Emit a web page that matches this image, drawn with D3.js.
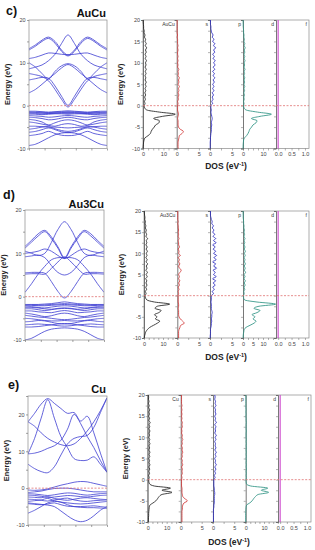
<!DOCTYPE html>
<html><head><meta charset="utf-8">
<script src="https://cdn.jsdelivr.net/npm/d3@7"></script>
<style>
body{margin:0;background:#fff}
svg{display:block}
text{font-family:Arial,"Liberation Sans",sans-serif}
</style>
</head><body>
<svg id="fig" width="315" height="550"></svg>
<script>
// ---------------- DATA ----------------
const panelLetters = ["c)", "d)", "e)"];
const compounds = ["AuCu", "Au3Cu", "Cu"];
const orbitals = ["s", "p", "d", "f"];
const kPoints = [0,1,2,3,4,5,6,7,8,9,10,11,12];

const bandsAuCu = [
 [13.3,14.2,15.3,16.0,15.0,13.0,11.8,13.0,15.0,16.0,15.3,14.2,13.3],
 [13.0,13.9,15.0,15.7,14.6,12.7,11.6,12.7,14.6,15.7,15.0,13.9,13.0],
 [11.0,11.3,11.8,12.3,12.2,12.0,11.9,12.0,12.2,12.3,11.8,11.3,11.0],
 [10.0,9.0,7.5,6.2,8.0,9.3,9.8,9.3,8.0,6.2,7.5,9.0,10.0],
 [8.6,9.0,9.5,10.5,12.0,14.5,16.5,14.5,12.0,10.5,9.5,9.0,8.6],
 [7.5,7.2,6.8,5.8,3.8,1.5,-0.3,1.5,3.8,5.8,6.8,7.2,7.5],
 [6.0,6.3,6.6,6.4,4.6,2.2,0.1,2.2,4.6,6.4,6.6,6.3,6.0],
 [3.0,3.8,5.0,6.3,7.5,8.8,9.6,8.8,7.5,6.3,5.0,3.8,3.0],
 [-1.3,-1.3,-1.4,-1.5,-1.4,-1.3,-1.2,-1.3,-1.4,-1.5,-1.4,-1.3,-1.3],
 [-1.45,-1.5,-1.55,-1.6,-1.55,-1.45,-1.4,-1.45,-1.55,-1.6,-1.55,-1.5,-1.45],
 [-1.6,-1.6,-1.7,-1.8,-1.7,-1.6,-1.6,-1.6,-1.7,-1.8,-1.7,-1.6,-1.6],
 [-1.8,-1.85,-1.9,-1.85,-1.8,-1.75,-1.8,-1.75,-1.8,-1.85,-1.9,-1.85,-1.8],
 [-2.0,-2.0,-2.1,-2.0,-1.9,-1.9,-2.0,-1.9,-1.9,-2.0,-2.1,-2.0,-2.0],
 [-2.3,-2.4,-2.5,-2.7,-2.6,-2.4,-2.3,-2.4,-2.6,-2.7,-2.5,-2.4,-2.3],
 [-2.7,-2.8,-3.0,-3.3,-3.2,-2.9,-2.7,-2.9,-3.2,-3.3,-3.0,-2.8,-2.7],
 [-3.2,-3.4,-3.8,-4.5,-4.0,-3.5,-3.3,-3.5,-4.0,-4.5,-3.8,-3.4,-3.2],
 [-3.8,-4.0,-4.3,-4.6,-4.8,-4.4,-4.2,-4.4,-4.8,-4.6,-4.3,-4.0,-3.8],
 [-4.8,-4.8,-4.9,-5.0,-5.0,-5.1,-5.2,-5.1,-5.0,-5.0,-4.9,-4.8,-4.8],
 [-5.5,-5.3,-5.0,-4.9,-5.4,-5.8,-6.0,-5.8,-5.4,-4.9,-5.0,-5.3,-5.5],
 [-6.2,-6.0,-5.6,-5.2,-5.6,-6.1,-6.3,-6.1,-5.6,-5.2,-5.6,-6.0,-6.2],
 [-7.0,-6.8,-6.5,-6.0,-6.5,-6.9,-7.0,-6.9,-6.5,-6.0,-6.5,-6.8,-7.0],
 [-9.3,-9.0,-8.3,-7.5,-6.8,-6.4,-6.3,-6.4,-6.8,-7.5,-8.3,-9.0,-9.3]
];

const bandsAu3Cu = [
 [11.6,13.0,14.5,15.3,13.8,11.5,9.0,11.5,13.8,15.3,14.5,13.0,11.6],
 [11.2,12.6,14.0,15.0,13.4,11.2,8.8,11.2,13.4,15.0,14.0,12.6,11.2],
 [10.5,10.0,9.5,10.0,12.5,15.5,17.3,15.5,12.5,10.0,9.5,10.0,10.5],
 [10.0,10.2,10.5,11.0,10.5,9.5,8.8,9.5,10.5,11.0,10.5,10.2,10.0],
 [9.2,9.4,9.6,9.0,7.2,5.6,5.0,5.6,7.2,9.0,9.6,9.4,9.2],
 [5.5,5.6,5.6,5.4,3.5,1.2,-0.3,1.2,3.5,5.4,5.6,5.6,5.5],
 [5.2,5.3,5.3,5.2,6.5,8.0,9.2,8.0,6.5,5.2,5.3,5.3,5.2],
 [1.0,3.0,5.2,7.0,8.5,9.0,9.0,9.0,8.5,7.0,5.2,3.0,1.0],
 [-1.8,-1.8,-1.8,-1.7,-1.6,-1.4,-1.2,-1.4,-1.6,-1.7,-1.8,-1.8,-1.8],
 [-1.9,-1.9,-1.95,-1.9,-1.8,-1.7,-1.6,-1.7,-1.8,-1.9,-1.95,-1.9,-1.9],
 [-2.0,-2.0,-2.1,-2.1,-2.0,-1.9,-1.8,-1.9,-2.0,-2.1,-2.1,-2.0,-2.0],
 [-2.2,-2.3,-2.5,-2.6,-2.4,-2.2,-2.1,-2.2,-2.4,-2.6,-2.5,-2.3,-2.2],
 [-2.5,-2.5,-2.6,-2.8,-2.9,-2.8,-2.7,-2.8,-2.9,-2.8,-2.6,-2.5,-2.5],
 [-2.8,-2.8,-3.0,-3.2,-3.0,-2.7,-2.6,-2.7,-3.0,-3.2,-3.0,-2.8,-2.8],
 [-3.3,-3.3,-3.5,-3.6,-3.7,-3.4,-3.2,-3.4,-3.7,-3.6,-3.5,-3.3,-3.3],
 [-3.8,-4.0,-4.3,-4.6,-4.4,-4.0,-3.8,-4.0,-4.4,-4.6,-4.3,-4.0,-3.8],
 [-4.3,-4.5,-4.7,-4.8,-5.0,-5.2,-5.3,-5.2,-5.0,-4.8,-4.7,-4.5,-4.3],
 [-5.0,-5.1,-5.3,-5.5,-5.6,-5.6,-5.5,-5.6,-5.6,-5.5,-5.3,-5.1,-5.0],
 [-5.8,-5.7,-5.5,-5.6,-5.9,-6.2,-6.3,-6.2,-5.9,-5.6,-5.5,-5.7,-5.8],
 [-6.5,-6.4,-6.3,-6.4,-6.5,-6.7,-6.8,-6.7,-6.5,-6.4,-6.3,-6.4,-6.5],
 [-7.0,-7.0,-6.9,-6.7,-6.5,-6.3,-6.2,-6.3,-6.5,-6.7,-6.9,-7.0,-7.0],
 [-10.0,-9.6,-8.8,-8.0,-7.5,-7.3,-7.2,-7.3,-7.5,-8.0,-8.8,-9.6,-10.0]
];

const bandsCu = [
 [18.0,20.3,22.8,24.3,23.0,21.6,20.3,20.5,18.2,19.5,15.0,9.5,4.3],
 [18.0,16.8,15.0,13.5,12.5,11.8,11.5,12.0,13.5,15.5,18.0,21.0,24.5],
 [9.3,13.5,19.0,24.0,19.0,14.0,11.0,8.0,7.5,7.6,8.5,6.5,4.3],
 [6.5,5.3,4.5,4.2,5.8,9.0,12.0,13.5,14.0,14.3,16.5,20.5,24.5],
 [9.3,9.5,10.0,10.8,11.5,13.0,16.0,20.0,17.5,14.0,11.0,7.5,4.3],
 [-0.5,-0.6,-0.5,-0.2,0.3,0.8,1.2,1.6,1.8,1.7,1.3,0.9,0.5],
 [-1.2,-1.0,-0.8,-0.4,-0.1,0.0,0.0,-0.2,-0.5,-0.8,-1.0,-1.0,-1.0],
 [-1.5,-1.6,-1.8,-2.0,-1.8,-1.5,-1.3,-1.4,-1.7,-1.9,-1.7,-1.5,-1.4],
 [-1.9,-2.0,-2.2,-2.5,-2.4,-2.2,-2.0,-2.1,-2.3,-2.4,-2.2,-2.0,-1.9],
 [-2.4,-2.5,-2.6,-2.3,-2.8,-3.1,-3.3,-3.0,-2.7,-2.6,-2.8,-3.0,-3.1],
 [-3.0,-3.1,-3.3,-3.5,-3.2,-2.9,-2.7,-3.2,-3.5,-3.6,-3.4,-3.3,-3.2],
 [-3.6,-3.4,-3.2,-2.8,-3.4,-3.8,-4.0,-4.2,-4.3,-4.2,-4.0,-3.8,-3.6],
 [-4.2,-4.4,-4.5,-4.3,-4.0,-4.5,-4.9,-5.0,-5.0,-4.9,-4.8,-5.0,-5.2],
 [-6.8,-6.0,-5.0,-4.0,-3.6,-3.8,-4.5,-5.0,-5.2,-5.3,-5.3,-5.4,-5.5],
 [-4.0,-4.2,-4.4,-4.6,-5.0,-6.2,-7.5,-8.6,-9.1,-8.7,-7.5,-6.0,-5.0]
];

const energies = [-10,-9.5,-9,-8.5,-8,-7.5,-7,-6.5,-6,-5.5,-5,-4.5,-4,-3.5,-3,-2.5,-2,-1.5,-1,-0.5,
 0,0.5,1,1.5,2,2.5,3,3.5,4,4.5,5,5.5,6,6.5,7,7.5,8,8.5,9,9.5,10,
 10.5,11,11.5,12,12.5,13,13.5,14,14.5,15,15.5,16,16.5,17,17.5,18,18.5,19,19.5,20];

const dosAuCuTotal = [0,0.1,0.2,0.3,0.5,1.0,2.5,3.6,4.0,4.6,5.5,6.2,7.8,8.0,5.2,9.5,15.8,8.0,1.8,0.8,
 0.6,1.0,0.7,1.2,0.8,1.3,0.9,1.4,1.0,1.5,1.1,1.6,1.0,1.4,1.0,1.5,1.1,1.6,1.0,1.5,1.2,
 1.7,1.1,1.5,1.0,1.6,1.2,1.8,1.1,1.6,1.0,1.3,0.7,1.0,0.5,0.6,0.3,0.3,0.2,0.1,0.1];
const dosAuCuS = [0.4,0.3,0.3,0.3,0.4,0.5,0.6,1.2,1.5,0.8,0.4,0.3,0.3,0.3,0.2,0.3,0.4,0.3,0.2,0.2,
 0.2,0.3,0.2,0.4,0.3,0.5,0.3,0.5,0.4,0.6,0.3,0.5,0.4,0.6,0.3,0.4,0.3,0.5,0.2,0.3,0.2,
 0.3,0.2,0.3,0.2,0.2,0.3,0.2,0.3,0.2,0.2,0.2,0.1,0.2,0.1,0.1,0.1,0.1,0.1,0.1,0.1];
const dosAuCuP = [0.05,0.05,0.05,0.05,0.1,0.1,0.15,0.2,0.3,0.3,0.3,0.4,0.3,0.4,0.5,0.4,0.3,0.2,0.3,0.2,
 0.2,0.6,0.4,0.7,0.5,0.8,0.5,0.9,0.6,0.9,0.6,1.0,0.7,1.1,0.7,1.0,0.6,1.1,0.7,1.2,0.8,
 1.2,0.7,1.0,0.6,1.1,0.8,1.3,0.8,1.1,0.6,0.9,0.5,0.7,0.4,0.3,0.2,0.2,0.1,0.1,0.1];
const dosAuCuD = [0,0.05,0.1,0.2,0.3,0.8,1.8,2.5,3.0,3.4,4.3,5.0,6.5,7.0,4.2,8.5,14.2,7.2,1.5,0.5,
 0.3,0.5,0.3,0.6,0.4,0.7,0.4,0.8,0.5,0.9,0.5,0.8,0.5,0.9,0.5,0.8,0.6,1.0,0.5,0.8,0.6,
 1.0,0.6,0.9,0.5,0.9,0.6,1.1,0.6,0.9,0.5,0.7,0.4,0.5,0.3,0.3,0.2,0.1,0.1,0.05,0.05];

const dosAu3CuTotal = [0.1,0.3,0.6,1.0,1.8,3.0,5.0,7.0,8.3,6.0,6.8,5.5,7.8,9.0,5.8,7.0,13.5,5.5,1.5,0.8,
 0.6,1.1,0.7,1.4,0.9,1.6,1.0,1.5,0.9,1.7,1.1,1.8,1.0,1.6,1.2,1.9,1.1,1.7,1.0,1.6,1.2,
 1.8,1.1,1.7,1.0,1.5,1.2,1.9,1.0,1.4,0.9,1.2,0.7,1.0,0.6,0.8,0.4,0.5,0.3,0.2,0.1];
const dosAu3CuS = [0.3,0.3,0.3,0.3,0.4,0.6,0.8,1.6,1.2,0.7,0.4,0.3,0.3,0.3,0.2,0.3,0.3,0.2,0.2,0.2,
 0.2,0.3,0.2,0.4,0.2,0.5,0.3,0.6,0.3,0.5,0.3,0.6,0.9,0.5,0.3,0.6,0.3,0.5,0.2,0.7,0.3,
 0.4,0.2,0.5,0.3,0.3,0.2,0.4,0.2,0.3,0.2,0.3,0.2,0.2,0.1,0.2,0.1,0.1,0.1,0.1,0.1];
const dosAu3CuP = [0.05,0.05,0.1,0.1,0.1,0.2,0.3,0.3,0.4,0.3,0.4,0.4,0.5,0.4,0.3,0.3,0.3,0.2,0.3,0.3,
 0.3,0.8,0.5,1.0,0.6,1.2,0.7,1.3,0.6,1.4,0.8,1.2,0.7,1.5,0.8,1.3,0.6,1.4,0.9,1.5,0.8,
 1.3,0.7,1.2,0.6,1.4,0.8,1.3,0.7,1.1,0.6,0.9,0.5,0.8,0.4,0.5,0.3,0.2,0.1,0.1,0.1];
const dosAu3CuD = [0.05,0.1,0.2,0.4,0.6,1.5,3.5,5.5,6.5,5.0,6.0,4.5,7.0,8.5,5.5,8.0,16.3,7.0,0.8,0.3,
 0.3,0.6,0.4,0.9,0.5,1.1,0.6,1.2,0.5,1.0,0.6,1.3,0.7,1.1,0.6,1.2,0.7,1.0,0.6,1.1,0.7,
 1.2,0.6,1.0,0.5,0.9,0.6,1.0,0.5,0.8,0.5,0.7,0.4,0.5,0.3,0.3,0.2,0.1,0.1,0.05,0.05];

const dosCuTotal = [0.3,0.4,0.4,0.5,0.5,0.6,0.7,0.8,1.2,2.8,4.3,5.2,6.0,7.5,12.8,7.5,12.0,3.5,1.0,0.6,
 0.5,0.8,0.5,1.0,0.6,1.1,0.6,1.2,0.7,1.0,0.6,1.1,0.7,1.2,0.6,1.0,0.7,1.2,0.7,1.1,0.6,
 1.0,0.7,1.2,0.6,1.1,0.7,1.3,0.6,1.0,0.5,0.9,0.6,1.1,0.5,0.8,0.4,0.7,0.4,0.5,0.3];
const dosCuS = [0.3,0.3,0.3,0.3,0.3,0.3,0.4,0.4,0.5,0.8,1.6,1.0,0.5,0.4,0.3,0.3,0.3,0.2,0.2,0.2,
 0.2,0.3,0.2,0.4,0.3,0.4,0.2,0.5,0.3,0.4,0.2,0.4,0.3,0.5,0.3,0.4,0.2,0.4,0.3,0.5,0.3,
 0.4,0.2,0.3,0.2,0.4,0.3,0.4,0.2,0.3,0.2,0.3,0.2,0.3,0.2,0.3,0.2,0.2,0.2,0.2,0.2];
const dosCuP = [0.1,0.1,0.1,0.1,0.1,0.1,0.1,0.2,0.2,0.3,0.3,0.3,0.3,0.4,0.4,0.3,0.3,0.2,0.2,0.2,
 0.2,0.5,0.3,0.6,0.4,0.7,0.4,0.8,0.5,0.6,0.4,0.7,0.5,0.8,0.4,0.7,0.5,0.6,0.4,0.7,0.5,
 0.8,0.4,0.6,0.5,0.7,0.4,0.8,0.5,0.6,0.4,0.7,0.5,0.6,0.4,0.7,0.5,0.6,0.4,0.5,0.4];
const dosCuD = [0,0,0,0,0,0.05,0.1,0.2,0.5,2.2,3.5,4.3,5.3,6.8,12.5,8.5,12.0,2.8,0.4,0.2,
 0.2,0.3,0.2,0.3,0.2,0.4,0.2,0.3,0.2,0.3,0.2,0.3,0.2,0.3,0.2,0.3,0.2,0.3,0.2,0.3,0.2,
 0.2,0.2,0.3,0.2,0.2,0.2,0.3,0.2,0.2,0.1,0.2,0.1,0.2,0.1,0.1,0.1,0.1,0.1,0.1,0.1];

// f-states: zero over the whole energy range
const fEnergies = [-10, 20];
const fValues = [0, 0];

const dosYTicks = [20,15,10,5,0,-5,-10];
const bandYTicks = [20,10,0,-10];
const dosTotalTicks = [0,10];
const dosSPTicks = [0,5];
const dosDTicks = [[0,10],[0,5,10],[0,10]];
const dosFTicks = [0,0.5,1.0];

// ---------------- LAYOUT ----------------
const layout = [
 {letter:[6,15], title:[106,17], band:{x0:29,x1:107,y0:20,y1:148.5,dom:[-10,20]},
  dos:{xs:[143,176.7,210,243,276,309], y0:20, y1:148.5},
  doms:[[0,16.5],[0,7.5],[0,7.5],[0,16.5],[-0.08,1.15]], dosLabelY:169, dosLabelX:226},
 {letter:[3,199], title:[104,208], band:{x0:25,x1:104,y0:210,y1:340,dom:[-10,20]},
  dos:{xs:[144,177.3,210,243,276,309], y0:211, y1:338},
  doms:[[0,17.5],[0,7.5],[0,7.5],[0,16.5],[-0.08,1.15]], dosLabelY:360, dosLabelX:226},
 {letter:[8,389], title:[106,393], band:{x0:28,x1:107,y0:396,y1:525,dom:[-10,25]},
  dos:{xs:[147.7,180.7,213,245.7,278,311], y0:395, y1:522},
  doms:[[0,17.4],[0,7.7],[0,7.7],[0,17.6],[-0.08,1.15]], dosLabelY:545, dosLabelX:229}
];
const bandSets = [bandsAuCu, bandsAu3Cu, bandsCu];
const dosSets = [
 [dosAuCuTotal, dosAuCuS, dosAuCuP, dosAuCuD],
 [dosAu3CuTotal, dosAu3CuS, dosAu3CuP, dosAu3CuD],
 [dosCuTotal, dosCuS, dosCuP, dosCuD]
];
const dosColors = ["#222", "#d23a3a", "#2a2ac0", "#2f9484", "#cc44cc"];

const svg = d3.select("#fig");
const axisCol = "#666";

layout.forEach((L, pi) => {
  const g = svg.append("g");
  g.append("text").attr("x", L.letter[0]).attr("y", L.letter[1])
   .attr("font-size", 12.5).attr("font-weight", "bold").attr("fill", "#111").text(panelLetters[pi]);
  g.append("text").attr("x", L.title[0]).attr("y", L.title[1]).attr("text-anchor", "end")
   .attr("font-size", 11).attr("font-weight", "bold").attr("fill", "#111").text(compounds[pi]);

  // ---- band structure ----
  const B = L.band;
  const kx = d3.scaleLinear().domain([0, 12]).range([B.x0, B.x1]);
  const by = d3.scaleLinear().domain(B.dom).range([B.y1, B.y0]);
  const clipId = "clipb" + pi;
  g.append("clipPath").attr("id", clipId).append("rect")
   .attr("x", B.x0).attr("y", B.y0).attr("width", B.x1 - B.x0).attr("height", B.y1 - B.y0);
  const bandLine = d3.line().x((d, i) => kx(kPoints[i])).y(d => by(d)).curve(d3.curveCatmullRom.alpha(0.5));
  g.append("g").attr("clip-path", `url(#${clipId})`).selectAll("path").data(bandSets[pi]).join("path")
   .attr("d", bandLine).attr("fill", "none").attr("stroke", "#3c3cd2").attr("stroke-width", 0.8);
  g.append("line").attr("x1", B.x0).attr("x2", B.x1).attr("y1", by(0)).attr("y2", by(0))
   .attr("stroke", "#e07272").attr("stroke-width", 0.8).attr("stroke-dasharray", "2,1.5");
  g.append("rect").attr("x", B.x0).attr("y", B.y0).attr("width", B.x1 - B.x0).attr("height", B.y1 - B.y0)
   .attr("fill", "none").attr("stroke", "#8a8a8a").attr("stroke-width", 0.7);
  const byAxis = d3.axisLeft(by).tickValues(d3.range(B.dom[0], B.dom[1] + 0.1, 5)).tickSize(2)
   .tickFormat(d => bandYTicks.includes(d) ? d : "");
  const bya = g.append("g").attr("transform", `translate(${B.x0},0)`).call(byAxis);
  bya.select(".domain").remove();
  bya.selectAll("line").attr("stroke", axisCol).attr("stroke-width", 0.6);
  bya.selectAll("text").attr("font-size", 5.5).attr("fill", "#444").attr("x", -3.5).style("font-family", "Arial");
  const bxAxis = d3.axisBottom(kx).tickValues([0, 2.4, 4.8, 7.2, 9.6, 12]).tickSize(2).tickFormat("");
  const bxa = g.append("g").attr("transform", `translate(0,${B.y1})`).call(bxAxis);
  bxa.select(".domain").remove();
  bxa.selectAll("line").attr("stroke", axisCol).attr("stroke-width", 0.6);
  g.append("text").attr("transform", `translate(${B.x0 - 19},${(B.y0 + B.y1) / 2}) rotate(-90)`)
   .attr("text-anchor", "middle").attr("font-size", 7.5).attr("font-weight", "bold").attr("fill", "#222")
   .text("Energy (eV)");

  // ---- DOS ----
  const D = L.dos;
  const dy = d3.scaleLinear().domain([-10, 20]).range([D.y1, D.y0]);
  const xsc = L.doms.map((dom, j) => d3.scaleLinear().domain(dom).range([D.xs[j], D.xs[j + 1]]));
  const dLine = (xs) => d3.line().x(d => xs(d[1])).y(d => dy(d[0])).curve(d3.curveMonotoneY);
  g.append("rect").attr("x", D.xs[0]).attr("y", D.y0).attr("width", D.xs[5] - D.xs[0]).attr("height", D.y1 - D.y0)
   .attr("fill", "none").attr("stroke", "#8a8a8a").attr("stroke-width", 0.7);
  for (let j = 0; j < 5; j++) {
    const ax = d3.axisLeft(dy).tickValues(d3.range(-10, 20.1, 2.5)).tickSize(2)
      .tickFormat(d => (j === 0 && dosYTicks.includes(d)) ? d : "");
    const a = g.append("g").attr("transform", `translate(${D.xs[j]},0)`).call(ax);
    a.select(".domain").attr("stroke", "#555").attr("stroke-width", 0.8);
    a.selectAll("line").attr("stroke", axisCol).attr("stroke-width", 0.5);
    a.selectAll("text").attr("font-size", 5.5).attr("fill", "#444").attr("x", -3).style("font-family", "Arial");
    let tv;
    if (j === 0) tv = dosTotalTicks; else if (j === 1 || j === 2) tv = dosSPTicks;
    else if (j === 3) tv = dosDTicks[pi]; else tv = dosFTicks;
    const dom = L.doms[j];
    const step = j === 4 ? 0.25 : 2.5;
    const all = d3.range(Math.ceil(dom[0] / step) * step, dom[1] + 1e-6, step).filter(v => v >= dom[0]);
    const bx = d3.axisBottom(xsc[j]).tickValues(all).tickSize(2)
      .tickFormat(d => tv.some(t => Math.abs(t - d) < 1e-6) ? (j === 4 ? d3.format(".1f")(d) : d) : "");
    const b = g.append("g").attr("transform", `translate(0,${D.y1})`).call(bx);
    b.select(".domain").remove();
    b.selectAll("line").attr("stroke", axisCol).attr("stroke-width", 0.5);
    b.selectAll("text").attr("font-size", 5.5).attr("fill", "#444").attr("y", 4).style("font-family", "Arial");
  }
  dosSets[pi].forEach((vals, j) => {
    const pts = energies.map((e, i) => [e, vals[i]]);
    g.append("path").attr("d", dLine(xsc[j])(pts)).attr("fill", "none")
     .attr("stroke", dosColors[j]).attr("stroke-width", 0.85);
  });
  g.append("path").attr("d", dLine(xsc[4])(fEnergies.map((e, i) => [e, fValues[i]])))
   .attr("fill", "none").attr("stroke", dosColors[4]).attr("stroke-width", 1.1);
  g.append("line").attr("x1", D.xs[0]).attr("x2", D.xs[5]).attr("y1", dy(0)).attr("y2", dy(0))
   .attr("stroke", "#e07272").attr("stroke-width", 0.8).attr("stroke-dasharray", "2,1.5");
  const labs = [compounds[pi]].concat(orbitals);
  labs.forEach((t, j) => {
    g.append("text").attr("x", D.xs[j + 1] - 2).attr("y", D.y0 + 6).attr("text-anchor", "end")
     .attr("font-size", 5).attr("fill", "#333").text(t);
  });
  g.append("text").attr("transform", `translate(${D.xs[0] - 20},${(D.y0 + D.y1) / 2}) rotate(-90)`)
   .attr("text-anchor", "middle").attr("font-size", 7.5).attr("font-weight", "bold").attr("fill", "#222")
   .text("Energy (eV)");
  const dl = g.append("text").attr("x", L.dosLabelX).attr("y", L.dosLabelY).attr("text-anchor", "middle")
   .attr("font-size", 8.5).attr("font-weight", "bold").attr("fill", "#222");
  dl.append("tspan").text("DOS (eV");
  dl.append("tspan").attr("font-size", 5.5).attr("dy", -3).text("-1");
  dl.append("tspan").attr("dy", 3).text(")");
});
</script>
</body></html>
